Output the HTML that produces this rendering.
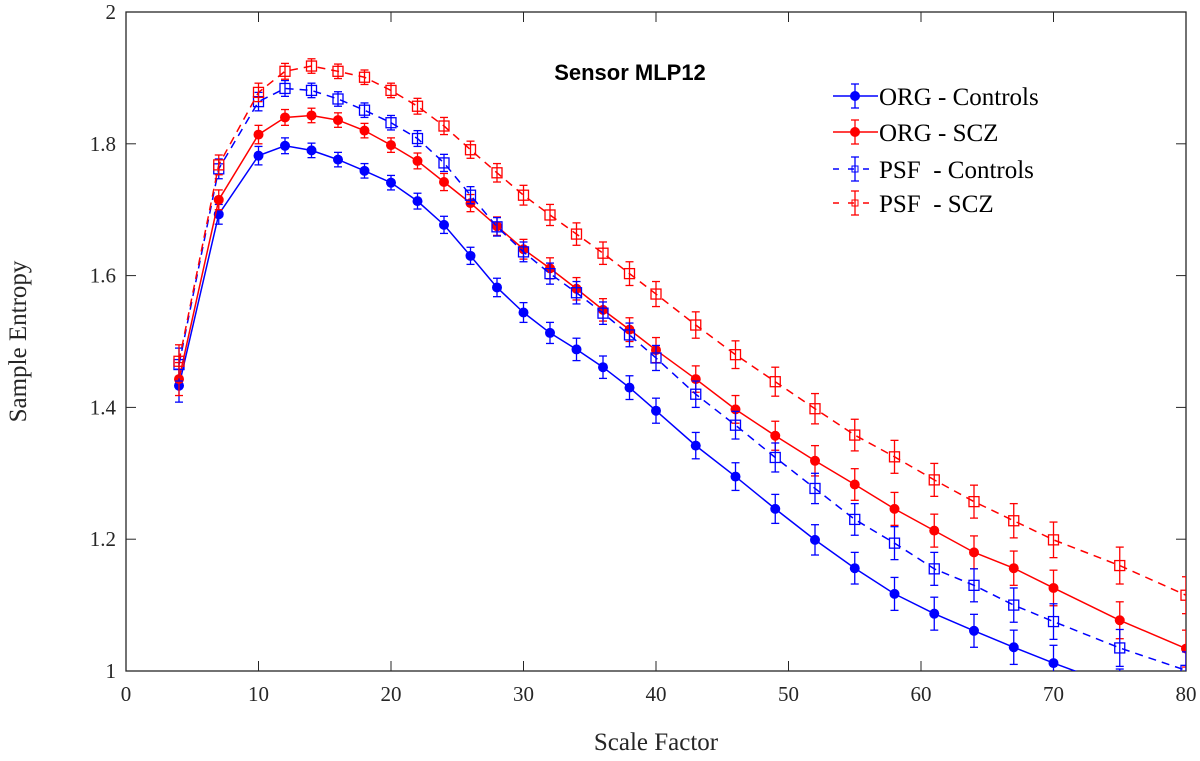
<!DOCTYPE html>
<html><head><meta charset="utf-8"><style>
body{margin:0;background:#fff}
svg text{font-family:"Liberation Serif",serif}
</style></head><body>
<svg id="chart" width="1200" height="756" xmlns="http://www.w3.org/2000/svg"></svg>
<script>
const xs=[4,7,10,12,14,16,18,20,22,24,26,28,30,32,34,36,38,40,43,46,49,52,55,58,61,64,67,70,75,80];
const orgCtrl=[1.433,1.693,1.782,1.797,1.790,1.776,1.759,1.741,1.713,1.677,1.630,1.582,1.544,1.513,1.488,1.461,1.430,1.395,1.342,1.295,1.246,1.199,1.156,1.117,1.087,1.061,1.036,1.012,0.975,0.94];
const orgScz=[1.443,1.715,1.814,1.840,1.843,1.836,1.820,1.798,1.774,1.742,1.710,1.675,1.640,1.611,1.580,1.548,1.518,1.487,1.443,1.397,1.357,1.319,1.283,1.246,1.213,1.180,1.156,1.126,1.077,1.034];
const psfCtrl=[1.465,1.762,1.864,1.884,1.881,1.868,1.851,1.832,1.808,1.771,1.722,1.674,1.636,1.603,1.574,1.543,1.510,1.475,1.420,1.373,1.324,1.277,1.230,1.194,1.155,1.130,1.100,1.075,1.035,1.001];
const psfScz=[1.470,1.768,1.878,1.910,1.918,1.910,1.901,1.881,1.857,1.827,1.791,1.756,1.722,1.692,1.663,1.634,1.603,1.572,1.525,1.480,1.439,1.398,1.358,1.325,1.290,1.257,1.228,1.199,1.160,1.115];
const errs=[0.025,0.015,0.014,0.012,0.011,0.011,0.011,0.011,0.012,0.013,0.013,0.014,0.015,0.016,0.017,0.017,0.018,0.019,0.020,0.021,0.022,0.023,0.024,0.025,0.025,0.025,0.026,0.027,0.028,0.028];
const xTicks=[0,10,20,30,40,50,60,70,80];
const yTicks=[1,1.2,1.4,1.6,1.8,2];
const yTickLabels=['1','1.2','1.4','1.6','1.8','2'];
const L=126,R=1186,T=12,B=671;
const sx=v=>L+(v-0)/(80-0)*(R-L);
const sy=v=>B-(v-1)/(2-1)*(B-T);
const NS='http://www.w3.org/2000/svg';
const svg=document.getElementById('chart');
function mk(tag,attrs,parent){const e=document.createElementNS(NS,tag);for(const k in attrs)e.setAttribute(k,attrs[k]);(parent||svg).appendChild(e);return e;}
const defs=mk('defs',{});const cp=mk('clipPath',{id:'clip'},defs);mk('rect',{x:L,y:T,width:R-L,height:B-T},cp);
const axes=mk('g',{});


mk('rect',{x:L,y:T,width:R-L,height:B-T,fill:'none',stroke:'#262626','stroke-width':1.3},axes);
xTicks.forEach(t=>{const x=sx(t);mk('line',{x1:x,x2:x,y1:B,y2:B-10,stroke:'#262626'},axes);mk('line',{x1:x,x2:x,y1:T,y2:T+10,stroke:'#262626'},axes);
const tx=mk('text',{x:x,y:B+30,'text-anchor':'middle','font-size':21,fill:'#262626'},axes);tx.textContent=t;
});
yTicks.forEach((t,i)=>{const y=sy(t);mk('line',{x1:L,x2:L+10,y1:y,y2:y,stroke:'#262626'},axes);mk('line',{x1:R,x2:R-10,y1:y,y2:y,stroke:'#262626'},axes);
const tx=mk('text',{x:L-10,y:y+7,'text-anchor':'end','font-size':21,fill:'#262626'},axes);tx.textContent=yTickLabels[i];
});
const xt=mk('text',{x:(L+R)/2,y:750,'text-anchor':'middle','font-size':25,fill:'#262626'});xt.textContent='Scale Factor';

const yt=mk('text',{x:0,y:0,'text-anchor':'middle','font-size':25,fill:'#262626',transform:`translate(26,${(T+B)/2}) rotate(-90)`});yt.textContent='Sample Entropy';

const tt=mk('text',{x:630,y:80,'text-anchor':'middle','font-size':22,'font-weight':'bold',fill:'#000'});tt.textContent='Sensor MLP12';
tt.style.fontFamily='"Liberation Sans",sans-serif';

const series=[
{name:'ORG - Controls',vals:orgCtrl,color:'#0000ff',dash:'',marker:'dot',id:'org-controls'},
{name:'ORG - SCZ',vals:orgScz,color:'#ff0000',dash:'',marker:'dot',id:'org-scz'},
{name:'PSF  - Controls',vals:psfCtrl,color:'#0000ff',dash:'8,6',marker:'sq',id:'psf-controls'},
{name:'PSF  - SCZ',vals:psfScz,color:'#ff0000',dash:'8,6',marker:'sq',id:'psf-scz'}];
function marker(g,x,y,s){if(s.marker==='dot')mk('circle',{cx:x,cy:y,r:5,fill:s.color},g);else mk('rect',{x:x-5,y:y-5,width:10,height:10,fill:'none',stroke:s.color,'stroke-width':1.3},g);}
series.forEach((s,si)=>{
const g=mk('g',{'clip-path':'url(#clip)'});


mk('polyline',{points:xs.map((x,i)=>sx(x)+','+sy(s.vals[i])).join(' '),fill:'none',stroke:s.color,'stroke-width':1.5,'stroke-dasharray':s.dash},g);
xs.forEach((x,i)=>{const px=sx(x),v=s.vals[i],e=errs[i];
const eb=mk('g',{},g);


mk('line',{x1:px,x2:px,y1:sy(v+e),y2:sy(v-e),stroke:s.color,'stroke-width':1.3},eb);
mk('line',{x1:px-4,x2:px+4,y1:sy(v+e),y2:sy(v+e),stroke:s.color,'stroke-width':1.3},eb);
mk('line',{x1:px-4,x2:px+4,y1:sy(v-e),y2:sy(v-e),stroke:s.color,'stroke-width':1.3},eb);
marker(g,px,sy(v),s);});
const ly=[96,132,169,203][si];
const lg=mk('g',{});


mk('line',{x1:833,x2:878,y1:ly,y2:ly,stroke:s.color,'stroke-width':1.5,'stroke-dasharray':s.dash?'6,9':''},lg);
mk('line',{x1:855,x2:855,y1:ly-12,y2:ly+12,stroke:s.color,'stroke-width':1.3},lg);
mk('line',{x1:851,x2:859,y1:ly-12,y2:ly-12,stroke:s.color,'stroke-width':1.3},lg);
mk('line',{x1:851,x2:859,y1:ly+12,y2:ly+12,stroke:s.color,'stroke-width':1.3},lg);
if(s.marker==='dot')mk('circle',{cx:855,cy:ly,r:5,fill:s.color},lg);else mk('rect',{x:852,y:ly-3,width:6,height:6,fill:'none',stroke:s.color},lg);
const lt=mk('text',{x:879,y:ly+9,'font-size':25,fill:'#000'},lg);lt.textContent=s.name;lt.style.whiteSpace='pre';
});
</script>
</body></html>
